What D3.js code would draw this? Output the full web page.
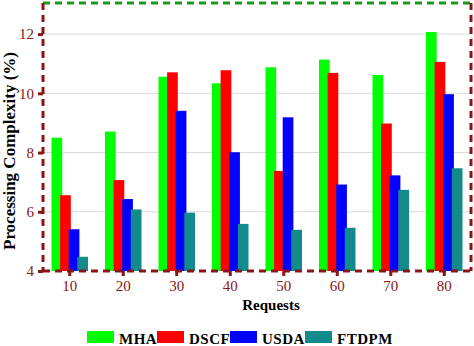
<!DOCTYPE html>
<html><head><meta charset="utf-8">
<script src="https://cdn.jsdelivr.net/npm/d3@7"></script>
<style>body{margin:0;background:#fff}svg{display:block}</style>
</head><body>
<script>
const categories = ["10","20","30","40","50","60","70","80"];
const seriesNames = ["MHA","DSCF","USDA","FTDPM"];
const MHA   = [8.50, 8.71, 10.56, 10.34, 10.88, 11.14, 10.62, 12.07];
const DSCF  = [6.56, 7.07, 10.71, 10.78, 7.38, 10.69, 8.98, 11.06];
const USDA  = [5.41, 6.43, 9.41, 8.01, 9.19, 6.92, 7.23, 9.97];
const FTDPM = [4.48, 6.08, 5.97, 5.59, 5.39, 5.46, 6.74, 7.47];
const yTicks = [4, 6, 8, 10, 12];
const colors = ["#00ff00", "#ff0000", "#0000ff", "#138b8b"];
const seriesValues = [MHA, DSCF, USDA, FTDPM];

const W = 474, H = 346;
const m = {l: 43, r: 3, t: 3, b: 75};
const svg = d3.select("body").append("svg").attr("width", W).attr("height", H);
const x = d3.scaleBand().domain(categories).range([m.l, W - m.r]).padding(0);
const y = d3.scaleLinear().domain([4, 13.05]).range([H - m.b, m.t]);
const maroon = "#8b1515";
const serif = "'Liberation Serif','Times New Roman',serif";

// grid
svg.append("g").selectAll("line").data(yTicks.filter(d => d > 4)).join("line")
  .attr("x1", m.l).attr("x2", W - m.r).attr("y1", d => y(d)).attr("y2", d => y(d))
  .attr("stroke", "#d9d9d9").attr("stroke-width", 1);

// bars
const step = 8.6, bw = 10.7;
seriesValues.forEach((vals, si) => {
  svg.append("g").selectAll("rect").data(vals).join("rect")
    .attr("x", (d, i) => x(categories[i]) + x.bandwidth() / 2 + (si - 1.5) * step - bw / 2)
    .attr("width", bw)
    .attr("y", d => y(d))
    .attr("height", d => y(4) - y(d))
    .attr("fill", colors[si]);
});

// y axis
const ya = svg.append("g").attr("transform", `translate(${m.l},0)`)
  .call(d3.axisLeft(y).tickValues(yTicks).tickSize(5).tickPadding(4));
ya.select(".domain").remove();
ya.selectAll(".tick line").attr("stroke", maroon).attr("stroke-width", 3);
ya.selectAll(".tick text").attr("fill", maroon).attr("font-family", serif).attr("font-size", 15);

// x axis
const xa = svg.append("g").attr("transform", `translate(0,${y(4)})`)
  .call(d3.axisBottom(x).tickSize(5).tickPadding(4));
xa.select(".domain").remove();
xa.selectAll(".tick line").attr("stroke", maroon).attr("stroke-width", 3);
xa.selectAll(".tick text").attr("fill", maroon).attr("font-family", serif).attr("font-size", 15);

// frame
const dash = "7,5";
const frame = svg.append("g").attr("fill", "none").attr("stroke-width", 3).attr("stroke-dasharray", dash);
frame.append("line").attr("x1", m.l).attr("x2", W - m.r).attr("y1", y(13.05)).attr("y2", y(13.05)).attr("stroke", "#1a9a1a");
frame.append("line").attr("x1", m.l).attr("x2", m.l).attr("y1", y(13.05)).attr("y2", y(4)).attr("stroke", maroon);
frame.append("line").attr("x1", W - m.r).attr("x2", W - m.r).attr("y1", y(13.05)).attr("y2", y(4)).attr("stroke", maroon);
frame.append("line").attr("x1", m.l).attr("x2", W - m.r).attr("y1", y(4)).attr("y2", y(4)).attr("stroke", maroon);

// axis titles
svg.append("text").attr("x", 271).attr("y", 310).attr("text-anchor", "middle")
  .attr("font-family", serif).attr("font-weight", "bold").attr("font-size", 15).text("Requests");
svg.append("text").attr("transform", "translate(15,151) rotate(-90)").attr("text-anchor", "middle")
  .attr("font-family", serif).attr("font-weight", "bold").attr("font-size", 17).text("Processing Complexity (%)");

// legend
const legX = [87, 157, 230, 305];
seriesNames.forEach((n, i) => {
  svg.append("rect").attr("x", legX[i]).attr("y", 331).attr("width", 27).attr("height", 12).attr("fill", colors[i]);
  svg.append("text").attr("x", legX[i] + 32).attr("y", 343.5).attr("font-family", serif)
    .attr("font-weight", "bold").attr("font-size", 15).attr("letter-spacing", 0.5).text(n);
});
</script>
</body></html>
